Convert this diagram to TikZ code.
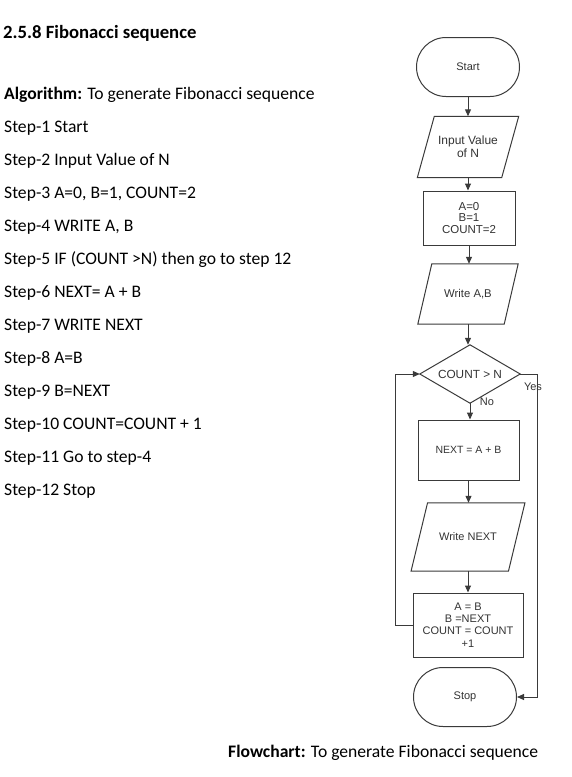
\documentclass[tikz,border=0pt]{standalone}
\usepackage{fontspec}
\setmainfont{Carlito}
\newfontfamily\fcfont{Liberation Sans}
\usetikzlibrary{arrows.meta,calc}
\definecolor{fcline}{HTML}{3A3A3A}
\definecolor{fctext}{HTML}{333333}
\newcommand\paraShape[2]{\draw[fcl] ($(#1.north west)+(#2,0)$) -- ($(#1.north east)+(#2,0)$) -- ($(#1.south east)+(-#2,0)$) -- ($(#1.south west)+(-#2,0)$) -- cycle;}
\begin{document}
\begin{tikzpicture}[x=1pt,y=-1pt,
  fcl/.style={draw=fcline, line width=1pt},
  fc/.style={font=\fcfont\fontsize{11}{12.3}\selectfont, text=fctext, align=center, inner sep=0pt},
  term/.style={fc, fcl, rounded corners=29.5pt, minimum width=103pt, minimum height=59pt},
  procbox/.style={fc, fcl},
  hid/.style={fc},
  arr/.style={fcl, -{Triangle[length=7pt,width=6pt]}},
  txt/.style={anchor=base west, inner sep=0pt, font=\fontsize{17.6}{20}\selectfont},
  lbl/.style={font=\fcfont\fontsize{11}{12}\selectfont, text=fctext, inner sep=0pt}
]
\useasboundingbox (0,0) rectangle (572,777);

% left text
\node[txt, font=\bfseries\fontsize{18.7}{20}\selectfont] (title) at (3,38) {2.5.8 Fibonacci sequence};
\node[txt] (alg) at (4,99) {\textbf{Algorithm:} To generate Fibonacci sequence};
\node[txt] (s1) at (4,132) {Step-1 Start};
\node[txt] (s2) at (4,165) {Step-2 Input Value of N};
\node[txt] (s3) at (4,198) {Step-3 A=0, B=1, COUNT=2};
\node[txt] (s4) at (4,231) {Step-4 WRITE A, B};
\node[txt] (s5) at (4,264) {Step-5 IF (COUNT >N) then go to step 12};
\node[txt] (s6) at (4,297) {Step-6 NEXT= A + B};
\node[txt] (s7) at (4,330) {Step-7 WRITE NEXT};
\node[txt] (s8) at (4,363) {Step-8 A=B};
\node[txt] (s9) at (4,396) {Step-9 B=NEXT};
\node[txt] (s10) at (4,429) {Step-10 COUNT=COUNT + 1};
\node[txt] (s11) at (4,462) {Step-11 Go to step-4};
\node[txt] (s12) at (4,495) {Step-12 Stop};
\node[txt] (cap) at (228,757) {\textbf{Flowchart:} To generate Fibonacci sequence};

% flowchart nodes
\node[term] (start) at (468,67) {Start};
\node[hid, minimum width=84pt, minimum height=61pt, font=\fcfont\fontsize{12}{13}\selectfont] (in) at (468,147) {Input Value\\of N};
\node[procbox, minimum width=92pt, minimum height=54pt, font=\fcfont\fontsize{11.5}{11.5}\selectfont] (init) at (469,218) {A=0\\B=1\\COUNT=2};
\node[hid, minimum width=86pt, minimum height=60pt, font=\fcfont\fontsize{11.3}{12}\selectfont] (wab) at (468,294) {Write A,B};
\node[hid, minimum width=100pt, minimum height=58pt, font=\fcfont\fontsize{11.8}{12}\selectfont] (dec) at (470,374) {COUNT > N};
\node[procbox, minimum width=101pt, minimum height=60pt, font=\fcfont\fontsize{10.5}{12}\selectfont] (next) at (468.5,450) {NEXT = A + B};
\node[hid, minimum width=97pt, minimum height=68pt] (wnx) at (468,537) {Write NEXT};
\node[procbox, minimum width=110pt, minimum height=64pt] (upd) at (468,625) {A = B\\B =NEXT\\COUNT = COUNT\\+1};
\node[term] (stop) at (465,697) {Stop};

% shapes drawn around hidden nodes
\paraShape{in}{8.5}
\paraShape{wab}{7}
\paraShape{wnx}{8.25}
\draw[fcl] (dec.north) -- (dec.east) -- (dec.south) -- (dec.west) -- cycle;

% connectors
\draw[arr] (start.south) -- (start.south |- in.north);
\draw[arr] (in.south) -- (in.south |- init.north);
\draw[arr] (init.south) -- (init.south |- wab.north);
\draw[arr] (wab.south) -- (wab.south |- dec.north);
\draw[arr] (dec.south) -- (dec.south |- next.north);
\draw[arr] (next.south) -- (next.south |- wnx.north);
\draw[arr] (wnx.south) -- (wnx.south |- upd.north);
\draw[arr] (upd.west) -- ++(-17,0) |- (dec.west);
\draw[arr] (dec.east) -- ++(17,0) |- (stop.east);

% labels
\node[lbl] (yes) at (533,387) {Yes};
\node[lbl] (no) at (487,402) {No};
\end{tikzpicture}
\end{document}
